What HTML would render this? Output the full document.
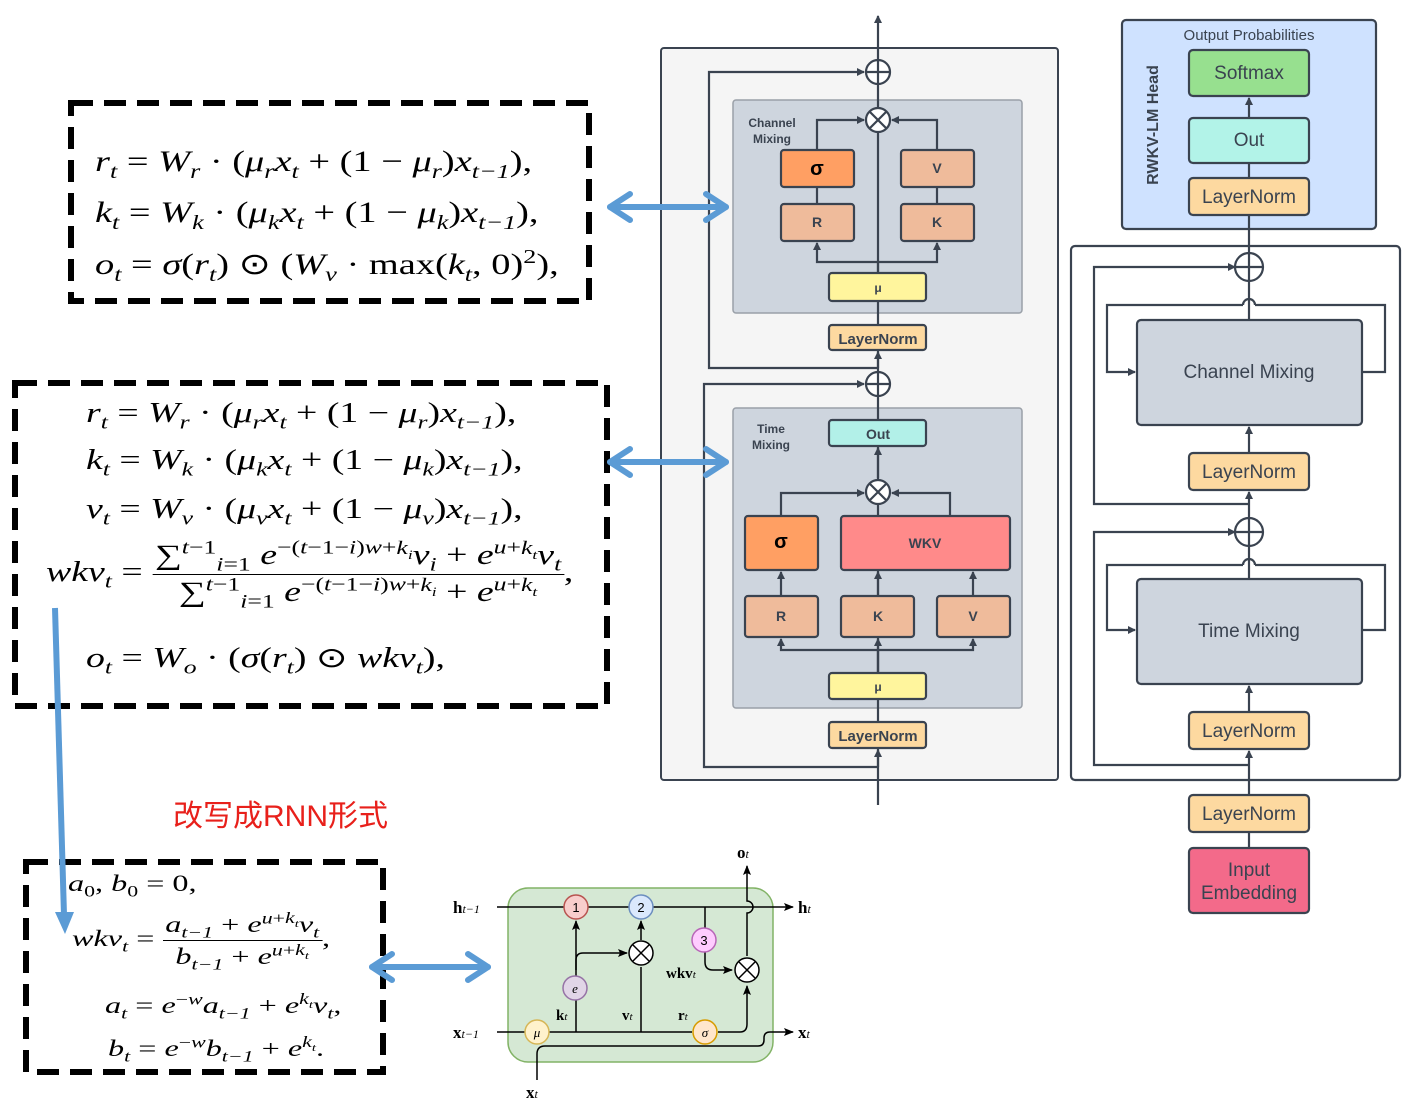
<!DOCTYPE html>
<html><head><meta charset="utf-8"><style>
body{margin:0;width:1414px;height:1116px;background:#fff;position:relative;overflow:hidden}
svg{position:absolute;left:0;top:0}
.f{position:absolute;font-family:"Liberation Serif",serif;white-space:nowrap;line-height:1;color:#000;transform-origin:0 50%}
.f i{font-style:italic}
.f sub,.f sup{font-size:68%;line-height:0}
.fr{display:inline-block;vertical-align:middle;text-align:center}
.fr>span{display:block;padding:0 2px}
.fr>span.n{border-bottom:1.5px solid #000;padding-bottom:4px}
.fr>span.d{padding-top:4px}
.s1{transform:scaleX(1.28)}
.s2{transform:scaleX(1.35)}
.s3{transform:scaleX(1.4)}
</style></head><body>
<svg width="1414" height="1116" viewBox="0 0 1414 1116" font-family="Liberation Sans, sans-serif">
<defs>
<marker id="a" markerWidth="8" markerHeight="8" refX="7" refY="4" orient="auto" markerUnits="userSpaceOnUse"><path d="M0,0L8,4L0,8z" fill="#3a4350"/></marker>
<marker id="k" markerWidth="10" markerHeight="8" refX="9" refY="4" orient="auto" markerUnits="userSpaceOnUse"><path d="M0,0L10,4L0,8L2,4z" fill="#000"/></marker>
</defs>
<!-- formula boxes -->
<g fill="none" stroke="#000" stroke-width="6" stroke-dasharray="22,11">
<rect x="71" y="103" width="518" height="198"/>
<rect x="15" y="383" width="592" height="323"/>
<rect x="26" y="862" width="357" height="210"/>
</g>
<text x="173" y="826" font-size="30" fill="#e8201b" font-family="Liberation Sans, Noto Sans CJK SC, sans-serif">改写成RNN形式</text>

<!-- middle panel -->
<rect x="661" y="48" width="397" height="732" rx="3" fill="#f5f5f5" stroke="#3a4350" stroke-width="2"/>
<rect x="733" y="100" width="289" height="213" rx="3" fill="#ced5de" stroke="#9aa0a8" stroke-width="1.5"/>
<rect x="733" y="408" width="289" height="300" rx="3" fill="#ced5de" stroke="#9aa0a8" stroke-width="1.5"/>
<g stroke="#3a4350" stroke-width="2.2" fill="none">
<line x1="878" y1="805" x2="878" y2="16" marker-end="url(#a)"/>
<path d="M878,368H709V72H864" marker-end="url(#a)"/>
<path d="M878,767H704V384H864" marker-end="url(#a)"/>
<line x1="878" y1="368" x2="878" y2="352" marker-end="url(#a)"/>
<line x1="878" y1="767" x2="878" y2="750" marker-end="url(#a)"/>
<path d="M817,150V120H864" marker-end="url(#a)"/>
<path d="M937,150V120H892" marker-end="url(#a)"/>
<line x1="817" y1="187" x2="817" y2="204"/><line x1="937" y1="187" x2="937" y2="204"/>
<path d="M878,273V262H817V243" marker-end="url(#a)"/>
<path d="M878,262H937V243" marker-end="url(#a)"/>
<path d="M781,516V493H864" marker-end="url(#a)"/>
<path d="M950,516V493H892" marker-end="url(#a)"/>
<line x1="878" y1="478" x2="878" y2="448" marker-end="url(#a)"/>
<line x1="781" y1="596" x2="781" y2="572" marker-end="url(#a)"/>
<line x1="878" y1="596" x2="878" y2="572" marker-end="url(#a)"/>
<line x1="973" y1="596" x2="973" y2="572" marker-end="url(#a)"/>
<path d="M878,673V650H781V639" marker-end="url(#a)"/>
<path d="M878,650H973V639" marker-end="url(#a)"/>
<line x1="878" y1="673" x2="878" y2="639" marker-end="url(#a)"/>
</g>
<g stroke="#3a4350" stroke-width="2.2" fill="#fff">
<circle cx="878" cy="72" r="12"/><path d="M866,72H890M878,60V84"/>
<circle cx="878" cy="384" r="12"/><path d="M866,384H890M878,372V396"/>
<circle cx="878" cy="120" r="12"/><path d="M870,112L886,128M886,112L870,128"/>
<circle cx="878" cy="492" r="12"/><path d="M870,484L886,500M886,484L870,500"/>
</g>
<g stroke="#3a4350" stroke-width="2.2">
<rect x="781" y="150" width="73" height="37" rx="3" fill="#ff9f63"/>
<rect x="901" y="150" width="73" height="37" rx="3" fill="#efbb9b"/>
<rect x="781" y="204" width="73" height="37" rx="3" fill="#efbb9b"/>
<rect x="901" y="204" width="73" height="37" rx="3" fill="#efbb9b"/>
<rect x="829" y="273" width="97" height="28" rx="3" fill="#fff59d"/>
<rect x="829" y="325" width="97" height="25" rx="3" fill="#fdd9a0"/>
<rect x="829" y="420" width="97" height="26" rx="3" fill="#b2f0e8"/>
<rect x="745" y="516" width="73" height="54" rx="3" fill="#ff9f63"/>
<rect x="841" y="516" width="169" height="54" rx="3" fill="#ff8a8a"/>
<rect x="745" y="596" width="73" height="41" rx="3" fill="#efbb9b"/>
<rect x="841" y="596" width="73" height="41" rx="3" fill="#efbb9b"/>
<rect x="937" y="596" width="73" height="41" rx="3" fill="#efbb9b"/>
<rect x="829" y="673" width="97" height="26" rx="3" fill="#fff59d"/>
<rect x="829" y="722" width="97" height="26" rx="3" fill="#fdd9a0"/>
</g>
<g font-weight="bold" fill="#3a4350" font-size="14" text-anchor="middle">
<text x="817" y="175" font-size="20" fill="#000">σ</text>
<text x="937" y="173">V</text><text x="817" y="227">R</text><text x="937" y="227">K</text>
<text x="878" y="292" font-size="12">μ</text>
<text x="878" y="344" font-size="15">LayerNorm</text>
<text x="878" y="439">Out</text>
<text x="781" y="548" font-size="20" fill="#000">σ</text>
<text x="925" y="548">WKV</text>
<text x="781" y="621">R</text><text x="878" y="621">K</text><text x="973" y="621">V</text>
<text x="878" y="691" font-size="12">μ</text>
<text x="878" y="741" font-size="15">LayerNorm</text>
<text x="772" y="127" font-size="12">Channel</text><text x="772" y="143" font-size="12">Mixing</text>
<text x="771" y="433" font-size="12">Time</text><text x="771" y="449" font-size="12">Mixing</text>
</g>

<!-- blue arrows (on top) -->
<g stroke="#5b9bd5" stroke-width="6" fill="none" stroke-linecap="round" stroke-linejoin="round">
<line x1="610" y1="207" x2="726" y2="207"/>
<path d="M630,194L610,207L630,220M706,194L726,207L706,220"/>
<line x1="610" y1="462" x2="726" y2="462"/>
<path d="M630,449L610,462L630,475M706,449L726,462L706,475"/>
<line x1="372" y1="967" x2="488" y2="967"/>
<path d="M392,954L372,967L392,980M468,954L488,967L468,980"/>
<line x1="55" y1="608" x2="64" y2="915" stroke-linecap="butt"/>
</g>
<path d="M55,912L74,912L65,934z" fill="#5b9bd5"/>

<!-- right panel -->
<rect x="1122" y="20" width="254" height="209" rx="4" fill="#cfe2ff" stroke="#3a4350" stroke-width="2.2"/>
<rect x="1071" y="246" width="329" height="534" rx="4" fill="#fff" stroke="#3a4350" stroke-width="2.2"/>
<g stroke="#3a4350" stroke-width="2.2" fill="none">
<line x1="1249" y1="848" x2="1249" y2="832"/>
<line x1="1249" y1="795" x2="1249" y2="751" marker-end="url(#a)"/>
<line x1="1249" y1="712" x2="1249" y2="686" marker-end="url(#a)"/>
<line x1="1249" y1="579" x2="1249" y2="546"/>
<line x1="1249" y1="519" x2="1249" y2="492" marker-end="url(#a)"/>
<line x1="1249" y1="453" x2="1249" y2="427" marker-end="url(#a)"/>
<line x1="1249" y1="320" x2="1249" y2="281"/>
<line x1="1249" y1="253" x2="1249" y2="215"/>
<line x1="1249" y1="178" x2="1249" y2="163"/>
<line x1="1249" y1="118" x2="1249" y2="98" marker-end="url(#a)"/>
<path d="M1249,504H1094V267H1235" marker-end="url(#a)"/>
<path d="M1249,765H1094V532H1235" marker-end="url(#a)"/>
<path d="M1243,305H1107V372H1135" marker-end="url(#a)"/>
<path d="M1362,372H1385V305H1255"/>
<path d="M1243,305A6,6 0 0 1 1255,305"/>
<path d="M1243,565H1107V630H1135" marker-end="url(#a)"/>
<path d="M1362,630H1385V565H1255"/>
<path d="M1243,565A6,6 0 0 1 1255,565"/>
</g>
<g stroke="#3a4350" stroke-width="2.2" fill="#fff">
<circle cx="1249" cy="267" r="14"/><path d="M1235,267H1263M1249,253V281"/>
<circle cx="1249" cy="532" r="14"/><path d="M1235,532H1263M1249,518V546"/>
</g>
<g stroke="#3a4350" stroke-width="2.2">
<rect x="1189" y="50" width="120" height="46" rx="4" fill="#97e08f"/>
<rect x="1189" y="118" width="120" height="45" rx="4" fill="#b2f3e8"/>
<rect x="1189" y="178" width="120" height="37" rx="4" fill="#fdd9a0"/>
<rect x="1137" y="320" width="225" height="105" rx="4" fill="#ced5de"/>
<rect x="1189" y="453" width="120" height="37" rx="4" fill="#fdd9a0"/>
<rect x="1137" y="579" width="225" height="105" rx="4" fill="#ced5de"/>
<rect x="1189" y="712" width="120" height="37" rx="4" fill="#fdd9a0"/>
<rect x="1189" y="795" width="120" height="37" rx="4" fill="#fdd9a0"/>
<rect x="1189" y="848" width="120" height="65" rx="4" fill="#f36a8a"/>
</g>
<g fill="#3a4350" font-size="19" text-anchor="middle">
<text x="1249" y="40" font-size="15">Output Probabilities</text>
<text x="1249" y="79">Softmax</text><text x="1249" y="146">Out</text>
<text x="1249" y="203">LayerNorm</text>
<text x="1249" y="378">Channel Mixing</text>
<text x="1249" y="478">LayerNorm</text>
<text x="1249" y="637">Time Mixing</text>
<text x="1249" y="737">LayerNorm</text>
<text x="1249" y="820">LayerNorm</text>
<text x="1249" y="876">Input</text><text x="1249" y="899">Embedding</text>
<text transform="translate(1158,125) rotate(-90)" font-size="16" font-weight="bold">RWKV-LM Head</text>
</g>

<!-- RNN cell -->
<rect x="508" y="888" width="265" height="174" rx="20" fill="#d5e8d4" stroke="#82b366" stroke-width="1.5"/>
<g stroke="#000" stroke-width="1.5" fill="none">
<line x1="497" y1="907" x2="793" y2="907" marker-end="url(#k)"/>
<line x1="497" y1="1032" x2="692" y2="1032"/>
<line x1="576" y1="1032" x2="576" y2="921" marker-end="url(#k)"/>
<path d="M576,970V960Q576,953 583,953H627" marker-end="url(#k)"/>
<line x1="641" y1="1032" x2="641" y2="967"/>
<line x1="641" y1="940" x2="641" y2="921" marker-end="url(#k)"/>
<path d="M705,907V953"/><path d="M705,953V962Q705,970 713,970H732" marker-end="url(#k)"/>
<path d="M718,1032H740Q747,1032 747,1024V986" marker-end="url(#k)"/>
<path d="M747,956V913A4,4 0 0 0 747,901V866" marker-end="url(#k)"/>
<path d="M537,1080V1054Q537,1046 545,1046H758Q764,1046 764,1040V1038Q764,1032 770,1032H793" marker-end="url(#k)"/>
</g>
<g stroke-width="1.5">
<circle cx="576" cy="907" r="12" fill="#f8cecc" stroke="#b85450"/>
<circle cx="641" cy="907" r="12" fill="#dae8fc" stroke="#6c8ebf"/>
<circle cx="704" cy="940" r="12" fill="#ffccff" stroke="#b866b8"/>
<circle cx="575" cy="988" r="12" fill="#e1d5e7" stroke="#9673a6"/>
<circle cx="537" cy="1032" r="12" fill="#fff2cc" stroke="#d6b656"/>
<circle cx="705" cy="1032" r="12" fill="#ffe6cc" stroke="#d79b00"/>
<circle cx="641" cy="953" r="12" fill="#fff" stroke="#000"/>
<circle cx="747" cy="970" r="12" fill="#fff" stroke="#000"/>
</g>
<g stroke="#000" stroke-width="1.5"><path d="M633,945L649,961M649,945L633,961M739,962L755,978M755,962L739,978"/></g>
<g font-size="13" text-anchor="middle" font-family="Liberation Serif, serif">
<text x="576" y="912" font-family="Liberation Sans">1</text>
<text x="641" y="912" font-family="Liberation Sans">2</text>
<text x="704" y="945" font-family="Liberation Sans">3</text>
<text x="575" y="993" font-style="italic">e</text>
<text x="537" y="1037" font-style="italic">μ</text>
<text x="705" y="1037" font-style="italic">σ</text>
</g>
<g font-family="Liberation Serif, serif" font-weight="bold" font-size="17">
<text x="453" y="913">h<tspan font-size="12" font-weight="normal" font-style="italic">t−1</tspan></text>
<text x="453" y="1038">x<tspan font-size="12" font-weight="normal" font-style="italic">t−1</tspan></text>
<text x="798" y="913">h<tspan font-size="12" font-weight="normal" font-style="italic">t</tspan></text>
<text x="798" y="1038">x<tspan font-size="12" font-weight="normal" font-style="italic">t</tspan></text>
<text x="737" y="858">o<tspan font-size="12" font-weight="normal" font-style="italic">t</tspan></text>
<text x="526" y="1098">x<tspan font-size="12" font-weight="normal" font-style="italic">t</tspan></text>
<text x="556" y="1020" font-size="15">k<tspan font-size="11" font-weight="normal" font-style="italic">t</tspan></text>
<text x="622" y="1020" font-size="15">v<tspan font-size="11" font-weight="normal" font-style="italic">t</tspan></text>
<text x="678" y="1020" font-size="15">r<tspan font-size="11" font-weight="normal" font-style="italic">t</tspan></text>
<text x="666" y="978" font-size="15">wkv<tspan font-size="11" font-weight="normal" font-style="italic">t</tspan></text>
</g>
</svg>

<!-- formulas box1 -->
<div class="f s1" style="left:95px;top:147px;font-size:30px"><i>r<sub>t</sub></i> = <i>W<sub>r</sub></i> · (<i>μ<sub>r</sub>x<sub>t</sub></i> + (1 − <i>μ<sub>r</sub></i>)<i>x<sub>t−1</sub></i>),</div>
<div class="f s1" style="left:95px;top:198px;font-size:30px"><i>k<sub>t</sub></i> = <i>W<sub>k</sub></i> · (<i>μ<sub>k</sub>x<sub>t</sub></i> + (1 − <i>μ<sub>k</sub></i>)<i>x<sub>t−1</sub></i>),</div>
<div class="f s1" style="left:95px;top:250px;font-size:30px"><i>o<sub>t</sub></i> = <i>σ</i>(<i>r<sub>t</sub></i>) ⊙ (<i>W<sub>v</sub></i> · max(<i>k<sub>t</sub></i>, 0)<sup>2</sup>),</div>
<!-- box2 -->
<div class="f s2" style="left:86px;top:400px;font-size:28px"><i>r<sub>t</sub></i> = <i>W<sub>r</sub></i> · (<i>μ<sub>r</sub>x<sub>t</sub></i> + (1 − <i>μ<sub>r</sub></i>)<i>x<sub>t−1</sub></i>),</div>
<div class="f s2" style="left:86px;top:447px;font-size:28px"><i>k<sub>t</sub></i> = <i>W<sub>k</sub></i> · (<i>μ<sub>k</sub>x<sub>t</sub></i> + (1 − <i>μ<sub>k</sub></i>)<i>x<sub>t−1</sub></i>),</div>
<div class="f s2" style="left:86px;top:496px;font-size:28px"><i>v<sub>t</sub></i> = <i>W<sub>v</sub></i> · (<i>μ<sub>v</sub>x<sub>t</sub></i> + (1 − <i>μ<sub>v</sub></i>)<i>x<sub>t−1</sub></i>),</div>
<div class="f s2" style="left:46px;top:542px;font-size:28px"><i>wkv<sub>t</sub></i> = <span class="fr"><span class="n">∑<sup><i>t</i>−1</sup><sub><i>i</i>=1</sub> <i>e</i><sup>−(<i>t</i>−1−<i>i</i>)<i>w</i>+<i>k<sub>i</sub></i></sup><i>v<sub>i</sub></i> + <i>e</i><sup><i>u</i>+<i>k<sub>t</sub></i></sup><i>v<sub>t</sub></i></span><span class="d">∑<sup><i>t</i>−1</sup><sub><i>i</i>=1</sub> <i>e</i><sup>−(<i>t</i>−1−<i>i</i>)<i>w</i>+<i>k<sub>i</sub></i></sup> + <i>e</i><sup><i>u</i>+<i>k<sub>t</sub></i></sup></span></span>,</div>
<div class="f s2" style="left:86px;top:645px;font-size:28px"><i>o<sub>t</sub></i> = <i>W<sub>o</sub></i> · (<i>σ</i>(<i>r<sub>t</sub></i>) ⊙ <i>wkv<sub>t</sub></i>),</div>
<!-- box3 -->
<div class="f s3" style="left:68px;top:872px;font-size:23px"><i>a</i><sub>0</sub>, <i>b</i><sub>0</sub> = 0,</div>
<div class="f s3" style="left:72px;top:913px;font-size:23px"><i>wkv<sub>t</sub></i> = <span class="fr"><span class="n"><i>a<sub>t−1</sub></i> + <i>e</i><sup><i>u</i>+<i>k<sub>t</sub></i></sup><i>v<sub>t</sub></i></span><span class="d"><i>b<sub>t−1</sub></i> + <i>e</i><sup><i>u</i>+<i>k<sub>t</sub></i></sup></span></span>,</div>
<div class="f s3" style="left:105px;top:994px;font-size:23px"><i>a<sub>t</sub></i> = <i>e</i><sup>−<i>w</i></sup><i>a<sub>t−1</sub></i> + <i>e</i><sup><i>k<sub>t</sub></i></sup><i>v<sub>t</sub></i>,</div>
<div class="f s3" style="left:108px;top:1037px;font-size:23px"><i>b<sub>t</sub></i> = <i>e</i><sup>−<i>w</i></sup><i>b<sub>t−1</sub></i> + <i>e</i><sup><i>k<sub>t</sub></i></sup>.</div>
</body></html>
